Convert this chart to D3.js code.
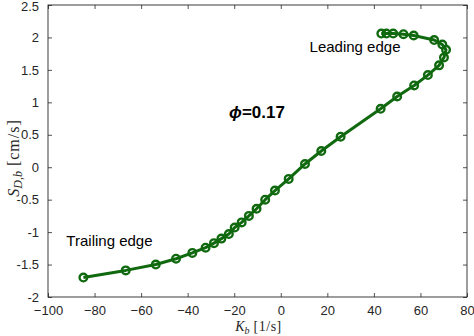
<!DOCTYPE html>
<html>
<head>
<meta charset="utf-8">
<script src="https://cdn.jsdelivr.net/npm/d3@7"></script>
<style>
html,body{margin:0;padding:0;background:#fff;}
svg{display:block;}
</style>
</head>
<body>
<script>
// Data: K_b [1/s] and S_{D,b} [cm/s], trailing edge -> leading edge
const kValues = [-84.8, -66.6, -53.7, -45.0, -38.0, -32.3, -28.7, -25.5, -22.3, -19.8, -16.8, -13.7, -10.4, -6.7, -2.5, 3.4, 10.4, 17.4, 25.7, 42.9, 50.0, 57.3, 63.2, 68.0, 70.1, 71.0, 69.4, 65.9, 57.1, 52.7, 48.3, 45.4, 43.2];
const sValues = [-1.70, -1.59, -1.50, -1.41, -1.32, -1.24, -1.17, -1.10, -1.03, -0.93, -0.85, -0.75, -0.64, -0.50, -0.36, -0.18, 0.05, 0.25, 0.47, 0.90, 1.09, 1.26, 1.42, 1.57, 1.69, 1.81, 1.89, 1.96, 2.03, 2.05, 2.06, 2.06, 2.06];
const xTicks = [-100, -80, -60, -40, -20, 0, 20, 40, 60, 80];
const yTicks = [-2, -1.5, -1, -0.5, 0, 0.5, 1, 1.5, 2, 2.5];
const annotations = [
  {text: "Leading edge", k: 31.9, s: 1.78},
  {text: "Trailing edge", k: -73.6, s: -1.22}
];

const W = 474, H = 336;
const L = 48, R = 467, T = 5, B = 297;
const color = "#10690f";

const svg = d3.select("body").append("svg").attr("width", W).attr("height", H);

const x = d3.scaleLinear().domain([-100, 80]).range([L, R]);
const y = d3.scaleLinear().domain([-2, 2.5]).range([B, T]);

const axisColor = "#262626";
const font = "'Liberation Sans', Arial, Helvetica, sans-serif";

// axes (ticks inward)
const gx = svg.append("g").attr("transform", `translate(0,${B})`)
  .call(d3.axisBottom(x).tickValues(xTicks).tickSizeInner(-4).tickSizeOuter(0).tickPadding(9).tickFormat(d3.format("d")));
const gxt = svg.append("g").attr("transform", `translate(0,${T})`)
  .call(d3.axisTop(x).tickValues(xTicks).tickSizeInner(-4).tickSizeOuter(0).tickFormat(""));
const gy = svg.append("g").attr("transform", `translate(${L},0)`)
  .call(d3.axisLeft(y).tickValues(yTicks).tickSizeInner(-4).tickSizeOuter(0).tickPadding(9).tickFormat(d => String(d)));
const gyr = svg.append("g").attr("transform", `translate(${R},0)`)
  .call(d3.axisRight(y).tickValues(yTicks).tickSizeInner(-4).tickSizeOuter(0).tickFormat(""));

[gx, gxt, gy, gyr].forEach(g => {
  g.selectAll(".domain").remove();
  g.selectAll(".tick line").attr("stroke", axisColor).attr("stroke-width", 0.8);
  g.selectAll("text").attr("fill", "#262626").style("font-family", font).style("font-size", "13px");
});
gx.selectAll(".tick text").attr("dy", "0.71em");
gy.selectAll(".tick text").filter(d => d === 2.5).attr("dy", "0.45em");

svg.append("rect").attr("x", L).attr("y", T).attr("width", R - L).attr("height", B - T)
  .attr("fill", "none").attr("stroke", axisColor).attr("stroke-width", 0.9);

// line and markers
const pts = kValues.map((k, i) => ({k, s: sValues[i]}));
const line = d3.line().x(d => x(d.k)).y(d => y(d.s));
svg.append("path").datum(pts).attr("d", line)
  .attr("fill", "none").attr("stroke", color).attr("stroke-width", 3).attr("stroke-linejoin", "round");
svg.append("g").selectAll("circle").data(pts).join("circle")
  .attr("cx", d => x(d.k)).attr("cy", d => y(d.s)).attr("r", 3.8)
  .attr("fill", "none").attr("stroke", color).attr("stroke-width", 2.4);

// annotations
svg.append("g").selectAll("text").data(annotations).join("text")
  .attr("x", d => x(d.k)).attr("y", d => y(d.s))
  .attr("text-anchor", "middle")
  .style("font-family", font).style("font-size", "15px").attr("fill", "#000")
  .text(d => d.text);

const phi = svg.append("text").attr("x", 257).attr("y", 117.5).attr("text-anchor", "middle")
  .style("font-family", font).style("font-size", "17px").style("font-weight", "bold").attr("fill", "#000");
phi.append("tspan").style("font-style", "italic").text("ϕ");
phi.append("tspan").text("=0.17");

// axis labels
const serif = "'Liberation Serif', 'DejaVu Serif', 'Times New Roman', serif";
const xl = svg.append("text").attr("x", (L + R) / 2 + 1).attr("y", 331).attr("text-anchor", "middle")
  .style("font-family", serif).style("font-size", "14px").attr("fill", "#262626");
xl.append("tspan").style("font-style", "italic").text("K");
xl.append("tspan").style("font-style", "italic").style("font-size", "10px").attr("dy", 3).text("b");
xl.append("tspan").attr("dy", -3).style("letter-spacing", "0.5px").text(" [1/s]");

const yl = svg.append("text").attr("transform", `translate(19,${(T + B) / 2 + 7}) rotate(-90)`)
  .attr("text-anchor", "middle")
  .style("font-family", serif).style("font-size", "16px").attr("fill", "#262626");
yl.append("tspan").style("font-style", "italic").text("S");
yl.append("tspan").style("font-style", "italic").style("font-size", "12px").attr("dy", 3).text("D,b");
yl.append("tspan").attr("dy", -3).style("letter-spacing", "1px").text(" [cm/s]");
</script>
</body>
</html>
